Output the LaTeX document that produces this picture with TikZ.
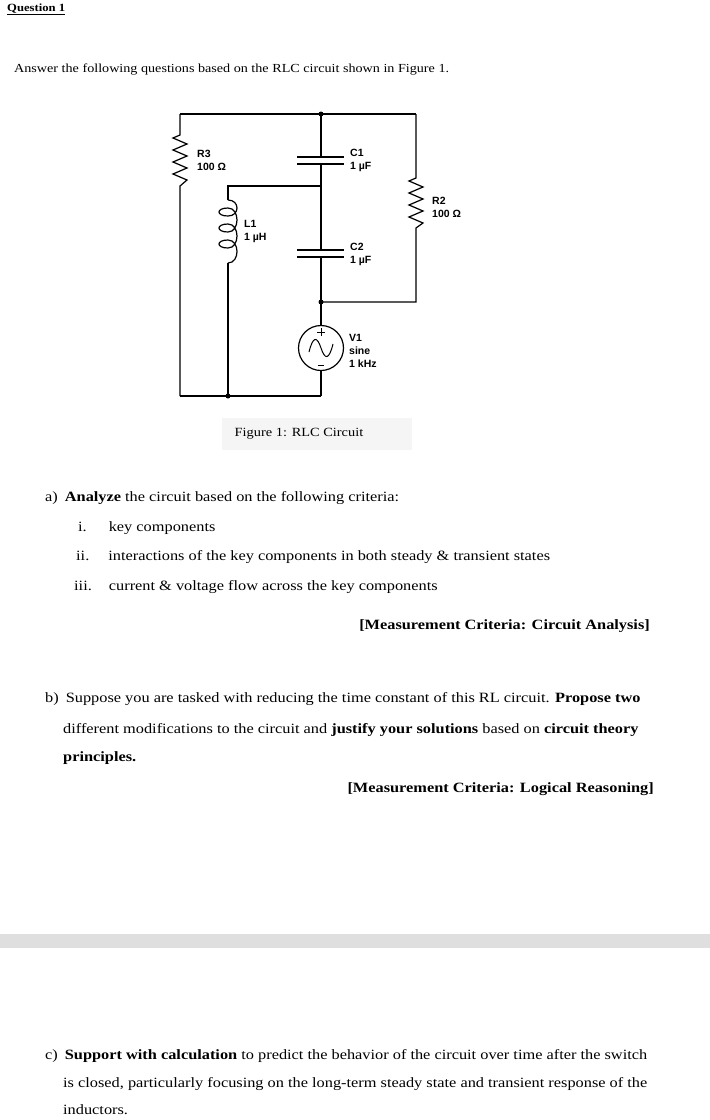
\documentclass[tikz,border=0pt]{standalone}
\usepackage{fontspec}
\setmainfont[FakeStretch=1.15]{Liberation Serif}
\newfontfamily\lbl{Liberation Sans}
\begin{document}
\begin{tikzpicture}[x=1pt,y=-1pt,
  wire/.style={line width=1.2pt,line join=miter},
  dot/.style={circle,fill,inner sep=0pt,minimum size=5pt},
  lab/.style={font=\lbl\bfseries\fontsize{10.5}{13}\selectfont,anchor=west,inner sep=0pt,align=left},
  txt/.style={font=\fontsize{14.2}{16}\selectfont,anchor=base west,inner sep=0pt}]
\useasboundingbox (0,0) rectangle (710,1120);
\fill[white] (0,0) rectangle (710,1120);
% header
\node[txt,font=\bfseries\fontsize{11}{13}\selectfont] (q) at (7,11) {\underline{Question 1}};
\node[txt,font=\fontsize{12.3}{14}\selectfont] (intro) at (14,72) {Answer the following questions based on the RLC circuit shown in Figure 1.};
% circuit coordinates
\coordinate (TL) at (180,114); \coordinate (TM) at (321,114); \coordinate (TR) at (416,114);
\coordinate (BL) at (180,396); \coordinate (BM) at (321,396); \coordinate (BL1) at (228,396);
\coordinate (J1) at (321,186); \coordinate (L1t) at (228,186);
\coordinate (J2) at (321,302); \coordinate (R2b) at (416,302);
\draw[wire] (TL) -- (TR);
\draw[wire] (BL) -- (BM);
% R3
\draw[wire] (TL) -- (180,135) -- (173,138) -- (187,144) -- (173,150) -- (187,156) -- (173,162) -- (187,168) -- (173,174) -- (187,180) -- (180,186) -- (BL);
\node[lab] (r3) at (197,160) {R3\\100 Ω};
% R2
\draw[wire] (TR) -- (416,178) -- (409,181) -- (423,187) -- (409,193) -- (423,199) -- (409,205) -- (423,211) -- (409,217) -- (423,223) -- (416,228) -- (R2b) -- (J2);
\node[lab] (r2) at (432,207) {R2\\100 Ω};
% C1
\draw[wire] (TM) -- (321,157);
\draw[wire] (297,157) -- (344,157); \draw[wire] (297,164) -- (344,164);
\draw[wire] (321,164) -- (J1);
\node[lab] (c1) at (350,160) {C1\\1 µF};
% C2
\draw[wire] (J1) -- (321,250);
\draw[wire] (297,250) -- (344,250); \draw[wire] (297,257) -- (344,257);
\draw[wire] (321,257) -- (J2);
\node[lab] (c2) at (350,254) {C2\\1 µF};
% L1
\draw[wire] (J1) -- (L1t) -- (228,200);
\draw[wire] (228,200) .. controls (240,200) and (240,216) .. (228,216)
  .. controls (216,216) and (216,208) .. (228,208)
  .. controls (240,208) and (240,232) .. (228,232)
  .. controls (216,232) and (216,224) .. (228,224)
  .. controls (240,224) and (240,248) .. (228,248)
  .. controls (216,248) and (216,240) .. (228,240)
  .. controls (240,240) and (240,263) .. (228,263);
\draw[wire] (228,263) -- (BL1);
\node[lab] (l1) at (244,231) {L1\\1 µH};
% V1
\node[circle,draw,line width=1.2pt,minimum size=45pt,inner sep=0pt] (v1) at (321,348) {};
\draw[wire] (J2) -- (v1.north); \draw[wire] (v1.south) -- (BM);
\draw[line width=1pt] (309,352) .. controls (313,336) and (317,336) .. (321,348) .. controls (325,360) and (329,360) .. (333,344);
\draw[line width=0.8pt] (321,328) -- (321,336) (317,332) -- (325,332) (318,365) -- (324,365);
\node[lab] (v) at (349,351) {V1\\sine\\1 kHz};
\node[dot] (d1) at (TM) {}; \node[dot] (d2) at (J2) {}; \node[dot] (d3) at (BL1) {};
% caption
\fill[gray!8] (222,418) rectangle (412,450);
\node[font=\fontsize{12.5}{14}\selectfont,inner sep=0pt] (cap) at (299,434) {Figure 1: RLC Circuit};
% questions
\node[txt] (a) at (45,501) {a)\hspace{7pt}\textbf{Analyze} the circuit based on the following criteria:};
\node[txt] (ai) at (78,531) {i.\hspace{22pt}key components};
\node[txt] (aii) at (76,560) {ii.\hspace{19pt}interactions of the key components in both steady \& transient states};
\node[txt] (aiii) at (74,590) {iii.\hspace{17pt}current \& voltage flow across the key components};
\node[txt,anchor=base east] (m1) at (650,629) {\textbf{[Measurement Criteria: Circuit Analysis]}};
\node[txt] (b) at (45,702) {b)\hspace{7pt}Suppose you are tasked with reducing the time constant of this RL circuit. \textbf{Propose two}};
\node[txt] (b2) at (63,733) {different modifications to the circuit and \textbf{justify your solutions} based on \textbf{circuit theory}};
\node[txt] (b3) at (63,761) {\textbf{principles.}};
\node[txt,anchor=base east] (m2) at (654,792) {\textbf{[Measurement Criteria: Logical Reasoning]}};
\fill[gray!25] (0,934) rectangle (710,948);
\node[txt] (c) at (45,1059) {c)\hspace{7pt}\textbf{Support with calculation} to predict the behavior of the circuit over time after the switch};
\node[txt] (c2t) at (63,1087) {is closed, particularly focusing on the long-term steady state and transient response of the};
\node[txt] (c3) at (63,1114) {inductors.};
\end{tikzpicture}
\end{document}
